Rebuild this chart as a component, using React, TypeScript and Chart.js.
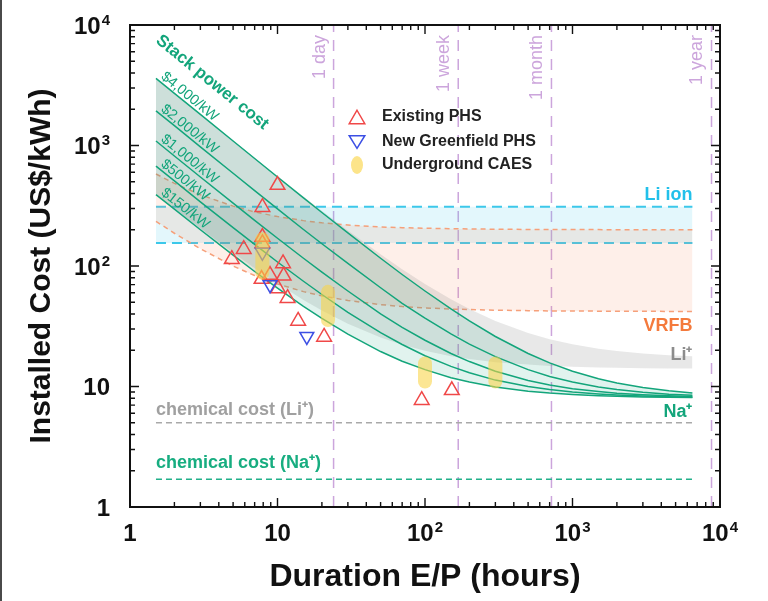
import React, { useEffect, useRef } from 'react';
import { Chart, registerables } from 'chart.js';

Chart.register(...registerables);

// ---------- data ----------
const durations = [1.5, 2, 3, 5, 7, 10, 15, 20, 30, 50, 70, 100, 150, 200, 300, 500, 700, 1000, 1500, 2000, 3000, 4500, 6500];

const stack4000 = [3610, 2710, 1810, 1090, 780, 548, 368, 278, 188, 116, 85, 62, 44, 35, 26, 18.8, 15.7, 13.4, 11.6, 10.7, 9.8, 9.2, 8.85];
const stack2000 = [1940, 1460, 975, 588, 422, 298, 201, 153, 105, 66, 49, 37, 27.3, 22.5, 17.7, 13.8, 12.1, 10.9, 9.9, 9.45, 8.97, 8.64, 8.45];
const stack1000 = [1090, 818, 548, 332, 239, 170, 116, 89, 62, 40, 31, 24.2, 18.8, 16.1, 13.4, 11.2, 10.3, 9.6, 9.1, 8.8, 8.54, 8.36, 8.25];
const stack500 = [675, 508, 341, 208, 151, 108, 74.7, 58, 41.3, 28, 22.3, 18, 14.7, 13, 11.3, 10, 9.43, 9, 8.67, 8.5, 8.33, 8.22, 8.15];
const stack150 = [391, 296, 200, 123, 90, 65.5, 46.3, 36.8, 27.2, 19.5, 16.2, 13.8, 11.8, 10.9, 9.9, 9.15, 8.82, 8.58, 8.38, 8.29, 8.19, 8.13, 8.09];
const stackLabels = ['$4,000/kW', '$2,000/kW', '$1,000/kW', '$500/kW', '$150/kW'];

const liPlusHigh = [3620, 2720, 1820, 1100, 788, 557, 377, 287, 197, 125, 94, 71, 53, 44, 35, 27.8, 24.7, 22.4, 20.6, 19.7, 18.8, 18.2, 17.8];
const liPlusLow = [397, 302, 206, 129, 96, 71.5, 52.3, 42.8, 33.2, 25.5, 22.2, 19.8, 17.8, 16.9, 15.9, 15.2, 14.8, 14.6, 14.4, 14.3, 14.2, 14.1, 14.1];

const vrfbHigh = [580, 485, 390, 314, 281, 257, 238, 228, 219, 211, 208, 206, 204, 203, 202, 201, 201, 200.5, 200.4, 200.3, 200.2, 200.1, 200];
const vrfbLow = [235, 187, 139, 100, 83.4, 71, 61.3, 56.5, 51.7, 47.8, 46.1, 44.9, 43.9, 43.5, 43, 42.6, 42.4, 42.3, 42.2, 42.1, 42.1, 42, 42];

const bandEnds = [1.5, 6500];
const liIonHigh = [310, 310];
const liIonLow = [155, 155];
const chemLi = [5, 5];
const chemNa = [1.7, 1.7];

const timeMarks = [24, 168, 720, 8760];
const timeLabels = ['1 day', '1 week', '1 month', '1 year'];

const phsDuration = [10, 7.9, 7.9, 7.9, 5.9, 4.9, 10.9, 11, 8.9, 7.8, 10.1, 11.7, 13.8, 20.7, 95, 152];
const phsCost = [470, 308, 174, 154, 138, 114, 105, 83, 84, 78, 65, 54, 35, 25.8, 7.7, 9.3];

const greenfieldDuration = [7.9, 8.9, 15.8];
const greenfieldCost = [130, 70, 26];

const caesDuration = [7.9, 22, 100, 300];
const caesLow = [88, 35.6, 11, 11];
const caesHigh = [167, 61, 15.5, 15.5];

const decadeValues = [1, 10, 100, 1000, 10000];
const decadeBase = ['1', '10', '10', '10', '10'];
const decadeExp = ['', '', '2', '3', '4'];
const legendLabels = ['Existing PHS', 'New Greenfield PHS', 'Underground CAES'];

// ---------- styles ----------
const FONT = "'Liberation Sans', Arial, Helvetica, sans-serif";
const GREEN = '#13a57b';
const CYAN = '#3cc8ea';
const ORANGE = '#f6a07a';
const PURPLE = '#cca5dc';
const RED = '#f04848';
const BLUE = '#3c4fe4';

function pts(xs: number[], ys: number[]) {
  return xs.map((x, i) => ({ x, y: ys[i] }));
}

function text(ctx: CanvasRenderingContext2D, s: string, x: number, y: number, font: string, color: string, align: CanvasTextAlign = 'left', baseline: CanvasTextBaseline = 'middle', rot = 0) {
  ctx.save();
  ctx.translate(x, y);
  ctx.rotate(rot);
  ctx.font = font;
  ctx.fillStyle = color;
  ctx.textAlign = align;
  ctx.textBaseline = baseline;
  ctx.fillText(s, 0, 0);
  ctx.restore();
}

// draws "10" with a superscript exponent; (x, yBase) is the left baseline point
function drawPow(ctx: CanvasRenderingContext2D, base: string, exp: string, xStart: number, yBase: number) {
  ctx.save();
  ctx.fillStyle = '#111';
  ctx.textAlign = 'left';
  ctx.textBaseline = 'alphabetic';
  ctx.font = `bold 24px ${FONT}`;
  const wb = ctx.measureText(base).width;
  ctx.fillText(base, xStart, yBase);
  if (exp) {
    ctx.font = `bold 15px ${FONT}`;
    ctx.fillText(exp, xStart + wb + 1, yBase - 9);
  }
  ctx.restore();
}

function powWidth(ctx: CanvasRenderingContext2D, base: string, exp: string) {
  ctx.save();
  ctx.font = `bold 24px ${FONT}`;
  let w = ctx.measureText(base).width;
  if (exp) {
    ctx.font = `bold 15px ${FONT}`;
    w += ctx.measureText(exp).width + 1;
  }
  ctx.restore();
  return w;
}

const decorPlugin = {
  id: 'decor',
  afterDatasetsDraw(chart: any) {
    const ctx: CanvasRenderingContext2D = chart.ctx;
    const { left, right, top, bottom } = chart.chartArea;
    const xs = chart.scales.x;
    const ys = chart.scales.y;
    const px = (v: number) => xs.getPixelForValue(v);
    const py = (v: number) => ys.getPixelForValue(v);

    // frame
    ctx.save();
    ctx.strokeStyle = '#111';
    ctx.lineWidth = 2;
    ctx.strokeRect(left, top, right - left, bottom - top);
    // inward ticks
    ctx.lineWidth = 1.4;
    ctx.beginPath();
    for (let k = 0; k <= 4; k++) {
      for (let m = 1; m <= 9; m++) {
        const v = m * Math.pow(10, k);
        if (v > 10000) break;
        const len = m === 1 ? 9 : 5;
        const x = px(v);
        ctx.moveTo(x, bottom); ctx.lineTo(x, bottom - len);
        ctx.moveTo(x, top); ctx.lineTo(x, top + len);
        const y = py(v);
        ctx.moveTo(left, y); ctx.lineTo(left + len, y);
        ctx.moveTo(right, y); ctx.lineTo(right - len, y);
      }
    }
    ctx.stroke();
    ctx.restore();

    // tick labels (decades, with superscript exponents)
    decadeValues.forEach((v, i) => {
      const w = powWidth(ctx, decadeBase[i], decadeExp[i]);
      drawPow(ctx, decadeBase[i], decadeExp[i], px(v) - w / 2, bottom + 34);
      drawPow(ctx, decadeBase[i], decadeExp[i], left - 20 - w, py(v) + 8.5);
    });

    // time-mark labels
    timeMarks.forEach((m, i) => {
      text(ctx, timeLabels[i], px(m) - 14, top + 10, `18px ${FONT}`, PURPLE, 'right', 'middle', -Math.PI / 2);
    });

    // stack power labels
    const stacks = [stack4000, stack2000, stack1000, stack500, stack150];
    let ang0 = 0;
    stacks.forEach((arr, i) => {
      const x0 = px(durations[0]);
      const y0 = py(arr[0]);
      const x1 = px(durations[3]);
      const y1 = py(arr[3]);
      const ang = Math.atan2(y1 - y0, x1 - x0);
      if (i === 0) ang0 = ang;
      ctx.save();
      ctx.translate(x0, y0);
      ctx.rotate(ang);
      ctx.font = `14.5px ${FONT}`;
      ctx.fillStyle = GREEN;
      ctx.textAlign = 'left';
      ctx.textBaseline = 'alphabetic';
      ctx.fillText(stackLabels[i], 3, -3);
      ctx.restore();
    });
    text(ctx, 'Stack power cost', left + 25, top + 17, `bold 17px ${FONT}`, GREEN, 'left', 'alphabetic', ang0);

    // right-side labels
    const xr = px(bandEnds[1]);
    text(ctx, 'Li ion', xr, py(liIonHigh[0]) - 12, `bold 18px ${FONT}`, '#22c0ea', 'right');
    text(ctx, 'VRFB', xr, py(vrfbLow[vrfbLow.length - 1]) + 15, `bold 18px ${FONT}`, '#f47a3c', 'right');
    text(ctx, 'Li⁺', xr, py(liPlusHigh[liPlusHigh.length - 1]) - 1, `bold 18px ${FONT}`, '#8c8c8c', 'right');
    text(ctx, 'Na⁺', xr, py(stack150[stack150.length - 1]) + 14, `bold 18px ${FONT}`, GREEN, 'right');
    const xl = px(bandEnds[0]);
    text(ctx, 'chemical cost (Li⁺)', xl, py(chemLi[0]) - 13, `bold 18px ${FONT}`, '#a0a0a0', 'left');
    text(ctx, 'chemical cost (Na⁺)', xl, py(chemNa[0]) - 16, `bold 18px ${FONT}`, '#17ad80', 'left');

    // legend
    const lx = left + 227;
    const ly = [top + 92, top + 117, top + 140];
    ctx.save();
    ctx.lineWidth = 1.5;
    const r1 = 9;
    ctx.strokeStyle = RED;
    ctx.beginPath();
    ctx.moveTo(lx, ly[0] - r1 * 0.75);
    ctx.lineTo(lx + r1 * 0.866, ly[0] + r1 * 0.75);
    ctx.lineTo(lx - r1 * 0.866, ly[0] + r1 * 0.75);
    ctx.closePath();
    ctx.stroke();
    ctx.strokeStyle = BLUE;
    ctx.beginPath();
    ctx.moveTo(lx, ly[1] + r1 * 0.7);
    ctx.lineTo(lx + r1 * 0.866, ly[1] - r1 * 0.7);
    ctx.lineTo(lx - r1 * 0.866, ly[1] - r1 * 0.7);
    ctx.closePath();
    ctx.stroke();
    ctx.fillStyle = 'rgba(250,210,60,0.6)';
    ctx.beginPath();
    ctx.ellipse(lx, ly[2], 6, 9, 0, 0, Math.PI * 2);
    ctx.fill();
    ctx.restore();
    legendLabels.forEach((s, i) => {
      text(ctx, s, lx + 25, ly[i], `bold 16px ${FONT}`, '#222', 'left');
    });
  },
};

export default function App() {
  const ref = useRef<HTMLCanvasElement>(null);

  useEffect(() => {
    const canvas = ref.current;
    if (!canvas) return;
    Chart.defaults.font.family = FONT;

    const datasets: any[] = [];
    const add = (ds: any) => {
      datasets.push({
        pointRadius: 0,
        pointHoverRadius: 0,
        borderWidth: 1.5,
        fill: false,
        tension: 0,
        ...ds,
      });
      return datasets.length - 1;
    };

    // time marks (vertical dashed)
    timeMarks.forEach((m) => {
      add({ data: [{ x: m, y: 1 }, { x: m, y: 10000 }], borderColor: PURPLE, borderDash: [11, 8], borderWidth: 1.5, order: 110 });
    });

    // Li ion band
    const iLiLow = add({ data: pts(bandEnds, liIonLow), borderColor: CYAN, borderDash: [10, 6], borderWidth: 2, order: 100 });
    add({ data: pts(bandEnds, liIonHigh), borderColor: CYAN, borderDash: [10, 6], borderWidth: 2, fill: iLiLow, backgroundColor: 'rgba(70,200,235,0.15)', order: 100 });

    // VRFB band
    const iVLow = add({ data: pts(durations, vrfbLow), borderColor: ORANGE, borderDash: [5, 4], borderWidth: 1.5, order: 90 });
    add({ data: pts(durations, vrfbHigh), borderColor: ORANGE, borderDash: [5, 4], borderWidth: 1.5, fill: iVLow, backgroundColor: 'rgba(250,150,110,0.15)', order: 90 });

    // Li+ band
    const iLpLow = add({ data: pts(durations, liPlusLow), borderColor: 'rgba(0,0,0,0)', borderWidth: 0, order: 80 });
    add({ data: pts(durations, liPlusHigh), borderColor: 'rgba(0,0,0,0)', borderWidth: 0, fill: iLpLow, backgroundColor: 'rgba(140,140,140,0.2)', order: 80 });

    // Na+ stack power lines
    const iS150 = add({ data: pts(durations, stack150), borderColor: GREEN, order: 50 });
    add({ data: pts(durations, stack500), borderColor: GREEN, order: 50 });
    add({ data: pts(durations, stack1000), borderColor: GREEN, order: 50 });
    add({ data: pts(durations, stack2000), borderColor: GREEN, order: 50 });
    add({ data: pts(durations, stack4000), borderColor: GREEN, fill: iS150, backgroundColor: 'rgba(20,160,120,0.13)', order: 50 });

    // chemical cost lines
    add({ data: pts(bandEnds, chemLi), borderColor: '#a9a9a9', borderDash: [6, 4], borderWidth: 1.5, order: 40 });
    add({ data: pts(bandEnds, chemNa), borderColor: '#22b08a', borderDash: [6, 4], borderWidth: 1.5, order: 40 });

    // PHS points
    add({
      data: pts(phsDuration, phsCost), showLine: false, pointStyle: 'triangle', pointRadius: 8.5,
      pointBorderColor: RED, pointBackgroundColor: 'rgba(0,0,0,0)', pointBorderWidth: 1.5, order: 20,
    });
    add({
      data: pts(greenfieldDuration, greenfieldCost), showLine: false, pointStyle: 'triangle', pointRadius: 8,
      pointRotation: 180, pointBorderColor: BLUE, pointBackgroundColor: 'rgba(0,0,0,0)', pointBorderWidth: 1.5, order: 15,
    });

    // CAES ranges
    caesDuration.forEach((d, i) => {
      add({
        data: [{ x: d, y: caesLow[i] }, { x: d, y: caesHigh[i] }],
        borderColor: 'rgba(250,212,70,0.58)', borderWidth: 14, borderCapStyle: 'round', order: 10,
      });
    });

    const chart = new Chart(canvas, {
      type: 'line',
      data: { datasets },
      options: {
        animation: false,
        responsive: false,
        maintainAspectRatio: false,
        events: [],
        layout: { padding: { left: 0, right: 48, top: 25, bottom: 0 } },
        plugins: {
          legend: { display: false },
          tooltip: { enabled: false },
        },
        scales: {
          x: {
            type: 'logarithmic',
            min: 1,
            max: 10000,
            grid: { display: false },
            border: { display: false },
            ticks: { display: false },
            title: { display: true, text: 'Duration E/P (hours)', color: '#111', font: { family: FONT, size: 32, weight: 'bold' }, padding: { top: 0, bottom: 5 } },
            afterFit: (s: any) => { s.height = 94; },
          },
          y: {
            type: 'logarithmic',
            min: 1,
            max: 10000,
            grid: { display: false },
            border: { display: false },
            ticks: { display: false },
            title: { display: true, text: 'Installed Cost (US$/kWh)', color: '#111', font: { family: FONT, size: 30, weight: 'bold' }, padding: { top: 24, bottom: 0 } },
            afterFit: (s: any) => { s.width = 130; },
          },
        },
      } as any,
      plugins: [decorPlugin],
    });

    return () => chart.destroy();
  }, []);

  return (
    <div style={{ position: 'absolute', left: 0, top: 0, width: 768, height: 601, background: '#fff', overflow: 'hidden' }}>
      <div style={{ position: 'absolute', left: 0, top: 0, width: 2, height: 601, background: '#4a4a4a' }} />
      <canvas ref={ref} width={768} height={601} style={{ position: 'absolute', left: 0, top: 0, width: 768, height: 601 }} />
    </div>
  );
}
